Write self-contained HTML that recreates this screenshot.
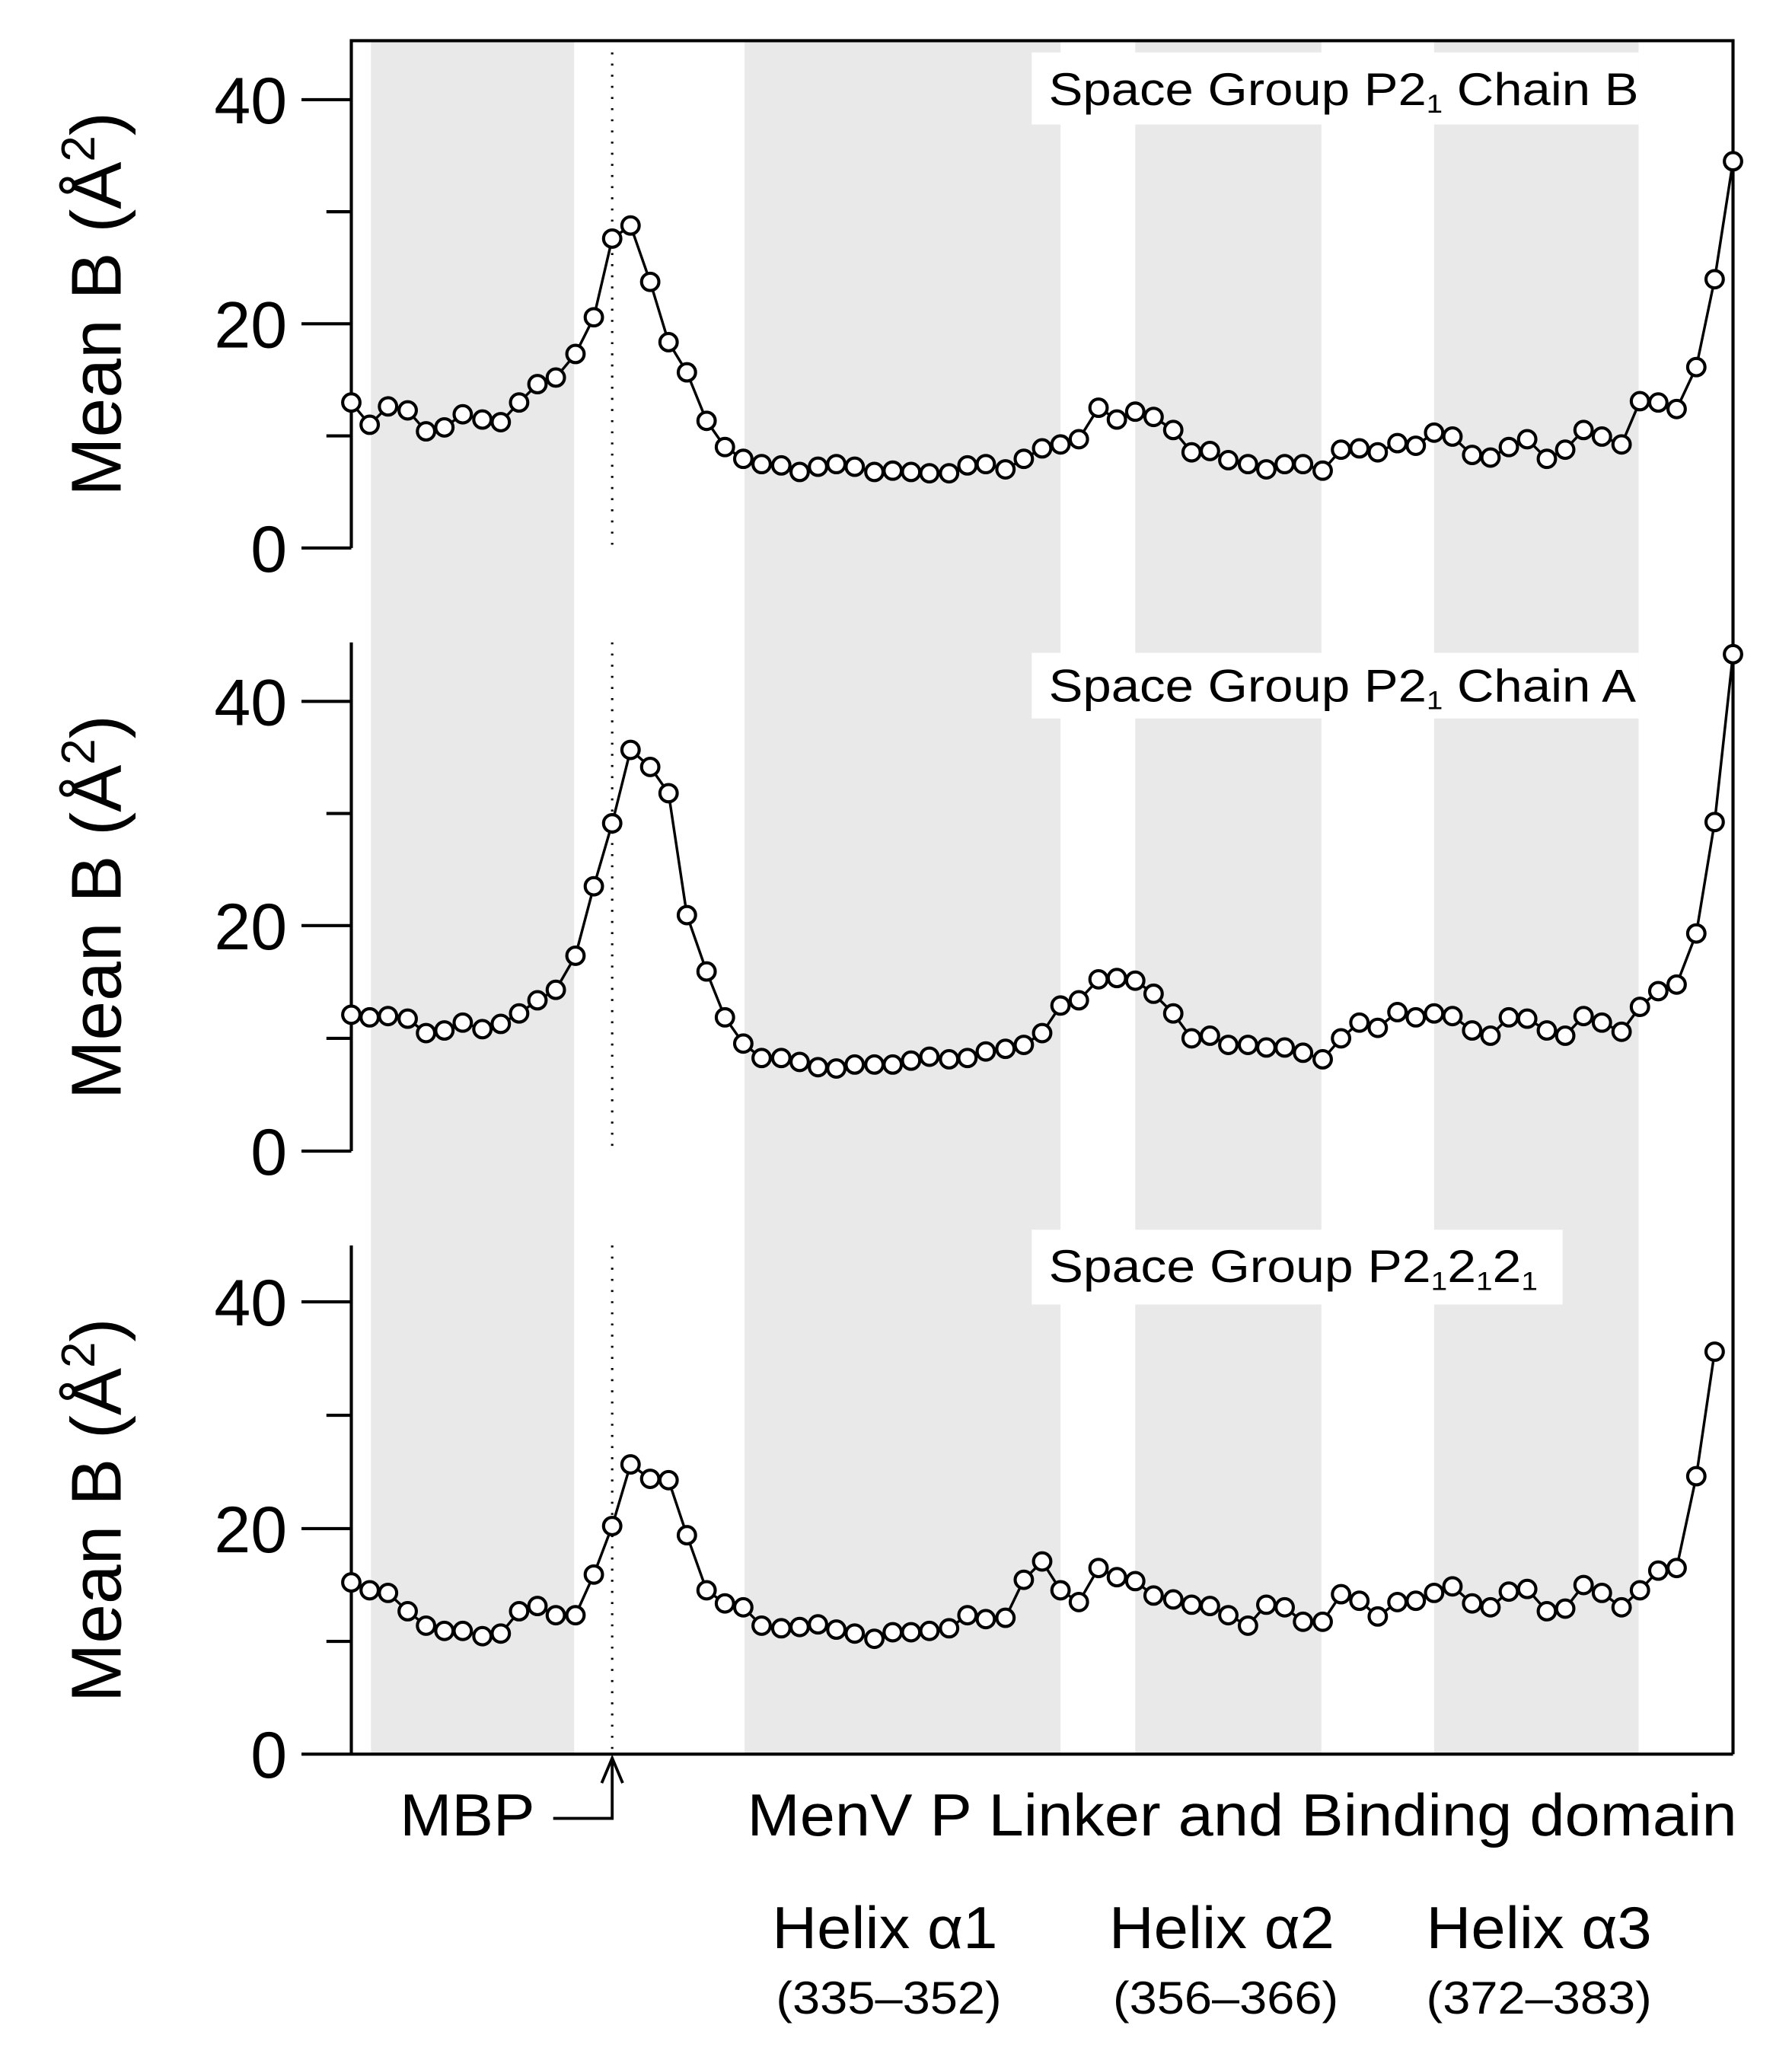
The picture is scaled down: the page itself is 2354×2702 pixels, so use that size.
<!DOCTYPE html>
<html><head><meta charset="utf-8"><style>
html,body{margin:0;padding:0;background:#fff}
svg{display:block}
text{font-family:"Liberation Sans",sans-serif;fill:#000}
</style></head><body>
<svg width="2354" height="2702" viewBox="0 0 1367 1569" preserveAspectRatio="none" xmlns="http://www.w3.org/2000/svg">
<defs>
<marker id="m" markerUnits="userSpaceOnUse" markerWidth="20" markerHeight="20" refX="10" refY="10" viewBox="0 0 20 20">
<circle cx="10" cy="10" r="6.6" fill="#fff" stroke="#000" stroke-width="2.4"/>
</marker>
</defs>
<g fill="#e9e9e9">
<rect x="283" y="31" width="155" height="1307"/>
<rect x="568" y="31" width="241" height="1307"/>
<rect x="866" y="31" width="142" height="1307"/>
<rect x="1094" y="31" width="156" height="1307"/>
</g>
<g fill="#fff">
<rect x="787" y="40" width="463" height="55"/>
<rect x="787" y="498" width="463" height="50"/>
<rect x="787" y="938" width="405" height="57"/>
</g>
<g stroke="#000" stroke-width="1.8" stroke-dasharray="1.5,7">
<line x1="467" y1="40" x2="467" y2="418"/>
<line x1="467" y1="490" x2="467" y2="878"/>
<line x1="467" y1="950" x2="467" y2="1338"/>
</g>
<g stroke="#000" stroke-width="2.4" fill="none">
<polyline points="268,418 268,31 1322,31 1322,1338"/>
<line x1="268" y1="490" x2="268" y2="878"/>
<line x1="268" y1="950" x2="268" y2="1338"/>
<line x1="230" y1="1338" x2="1322" y2="1338"/>
<line x1="230" y1="418" x2="268" y2="418"/><line x1="249" y1="332.5" x2="268" y2="332.5"/><line x1="230" y1="247" x2="268" y2="247"/><line x1="249" y1="161.5" x2="268" y2="161.5"/><line x1="230" y1="76" x2="268" y2="76"/>
<line x1="230" y1="878" x2="268" y2="878"/><line x1="249" y1="792" x2="268" y2="792"/><line x1="230" y1="706" x2="268" y2="706"/><line x1="249" y1="620.5" x2="268" y2="620.5"/><line x1="230" y1="535" x2="268" y2="535"/>
<line x1="249" y1="1252" x2="268" y2="1252"/><line x1="230" y1="1166" x2="268" y2="1166"/><line x1="249" y1="1079.5" x2="268" y2="1079.5"/><line x1="230" y1="993" x2="268" y2="993"/>
</g>
<g font-size="50" text-anchor="end">
<text x="219" y="436">0</text><text x="219" y="265">20</text><text x="219" y="94">40</text>
<text x="219" y="896">0</text><text x="219" y="724">20</text><text x="219" y="553">40</text>
<text x="219" y="1356">0</text><text x="219" y="1184">20</text><text x="219" y="1011">40</text>
</g>
<g font-size="54">
<text transform="translate(92,232) rotate(-90)" text-anchor="middle">Mean B (Å<tspan dy="-20" font-size="36">2</tspan><tspan dy="20">)</tspan></text>
<text transform="translate(92,692) rotate(-90)" text-anchor="middle">Mean B (Å<tspan dy="-20" font-size="36">2</tspan><tspan dy="20">)</tspan></text>
<text transform="translate(92,1152) rotate(-90)" text-anchor="middle">Mean B (Å<tspan dy="-20" font-size="36">2</tspan><tspan dy="20">)</tspan></text>
</g>
<g font-size="35">
<text x="800" y="80" textLength="450" lengthAdjust="spacingAndGlyphs">Space Group P2<tspan font-size="20" dy="6">1</tspan><tspan dy="-6"> Chain B</tspan></text>
<text x="800" y="535" textLength="448" lengthAdjust="spacingAndGlyphs">Space Group P2<tspan font-size="20" dy="6">1</tspan><tspan dy="-6"> Chain A</tspan></text>
<text x="800" y="978" textLength="373" lengthAdjust="spacingAndGlyphs">Space Group P2<tspan font-size="20" dy="6">1</tspan><tspan dy="-6">2</tspan><tspan font-size="20" dy="6">1</tspan><tspan dy="-6">2</tspan><tspan font-size="20" dy="6">1</tspan></text>
</g>
<g stroke="#000" stroke-width="2" fill="none" marker-start="url(#m)" marker-mid="url(#m)" marker-end="url(#m)">
<polyline points="268,307 282,324 296,310 311,313 325,329 339,326 353,316 368,320 382,322 396,307 410,293 424,288 439,270 453,242 467,182 481,172 496,215 510,261 524,284 539,321 553,341 567,350 581,354 596,355 610,360 624,356 638,354 652,356 667,360 681,359 695,360 709,361 724,361 738,355 752,354 767,358 781,350 795,342 809,339 823,335 838,311 852,320 866,314 880,318 895,328 909,345 923,344 937,351 952,354 966,358 980,354 994,354 1009,359 1023,343 1037,342 1051,345 1066,338 1080,340 1094,330 1108,333 1123,347 1137,349 1151,341 1165,335 1180,350 1194,343 1208,328 1222,333 1237,339 1251,306 1265,307 1279,312 1294,280 1308,213 1322,123"/>
<polyline points="268,774 282,776 296,775 311,777 325,788 339,786 353,780 368,785 382,781 396,773 410,763 424,755 439,729 453,676 467,628 481,572 496,585 510,605 524,698 539,741 553,776 567,796 581,807 596,807 610,810 624,814 638,815 652,812 667,812 681,812 695,809 709,806 724,808 738,807 752,802 767,800 781,797 795,788 809,767 823,763 838,747 852,746 866,748 880,758 895,773 909,792 923,790 937,797 952,797 966,799 980,799 994,803 1009,808 1023,792 1037,780 1051,784 1066,772 1080,776 1094,773 1108,775 1123,786 1137,790 1151,776 1165,777 1180,786 1194,790 1208,775 1222,780 1237,787 1251,768 1265,756 1279,751 1294,712 1308,627 1322,499"/>
<polyline points="268,1207 282,1213 296,1215 311,1229 325,1240 339,1244 353,1244 368,1248 382,1246 396,1229 410,1225 424,1232 439,1232 453,1201 467,1164 481,1117 496,1128 510,1129 524,1171 539,1213 553,1223 567,1226 581,1240 596,1242 610,1241 624,1239 638,1243 652,1246 667,1250 681,1245 695,1245 709,1244 724,1242 738,1232 752,1235 767,1234 781,1205 795,1191 809,1213 823,1222 838,1196 852,1203 866,1206 880,1217 895,1220 909,1224 923,1225 937,1232 952,1240 966,1224 980,1226 994,1237 1009,1237 1023,1216 1037,1221 1051,1233 1066,1222 1080,1221 1094,1215 1108,1210 1123,1223 1137,1226 1151,1214 1165,1212 1180,1229 1194,1227 1208,1209 1222,1215 1237,1226 1251,1213 1265,1198 1279,1196 1294,1126 1308,1031"/>
</g>
<g stroke="#000" stroke-width="2.2" fill="none">
<polyline points="422,1387 467,1387 467,1343"/>
<polyline points="459,1360 467,1341 475,1360"/>
</g>
<text x="305" y="1400" font-size="45" textLength="103" lengthAdjust="spacingAndGlyphs">MBP</text>
<text x="570" y="1400" font-size="45" textLength="755" lengthAdjust="spacingAndGlyphs">MenV P Linker and Binding domain</text>
<g font-size="45" text-anchor="middle">
<text x="675" y="1486" textLength="172" lengthAdjust="spacingAndGlyphs">Helix α1</text>
<text x="932" y="1486" textLength="172" lengthAdjust="spacingAndGlyphs">Helix α2</text>
<text x="1174" y="1486" textLength="172" lengthAdjust="spacingAndGlyphs">Helix α3</text>
</g>
<g font-size="35" text-anchor="middle">
<text x="678" y="1536" textLength="172" lengthAdjust="spacingAndGlyphs">(335–352)</text>
<text x="935" y="1536" textLength="172" lengthAdjust="spacingAndGlyphs">(356–366)</text>
<text x="1174" y="1536" textLength="172" lengthAdjust="spacingAndGlyphs">(372–383)</text>
</g>
</svg>
</body></html>
